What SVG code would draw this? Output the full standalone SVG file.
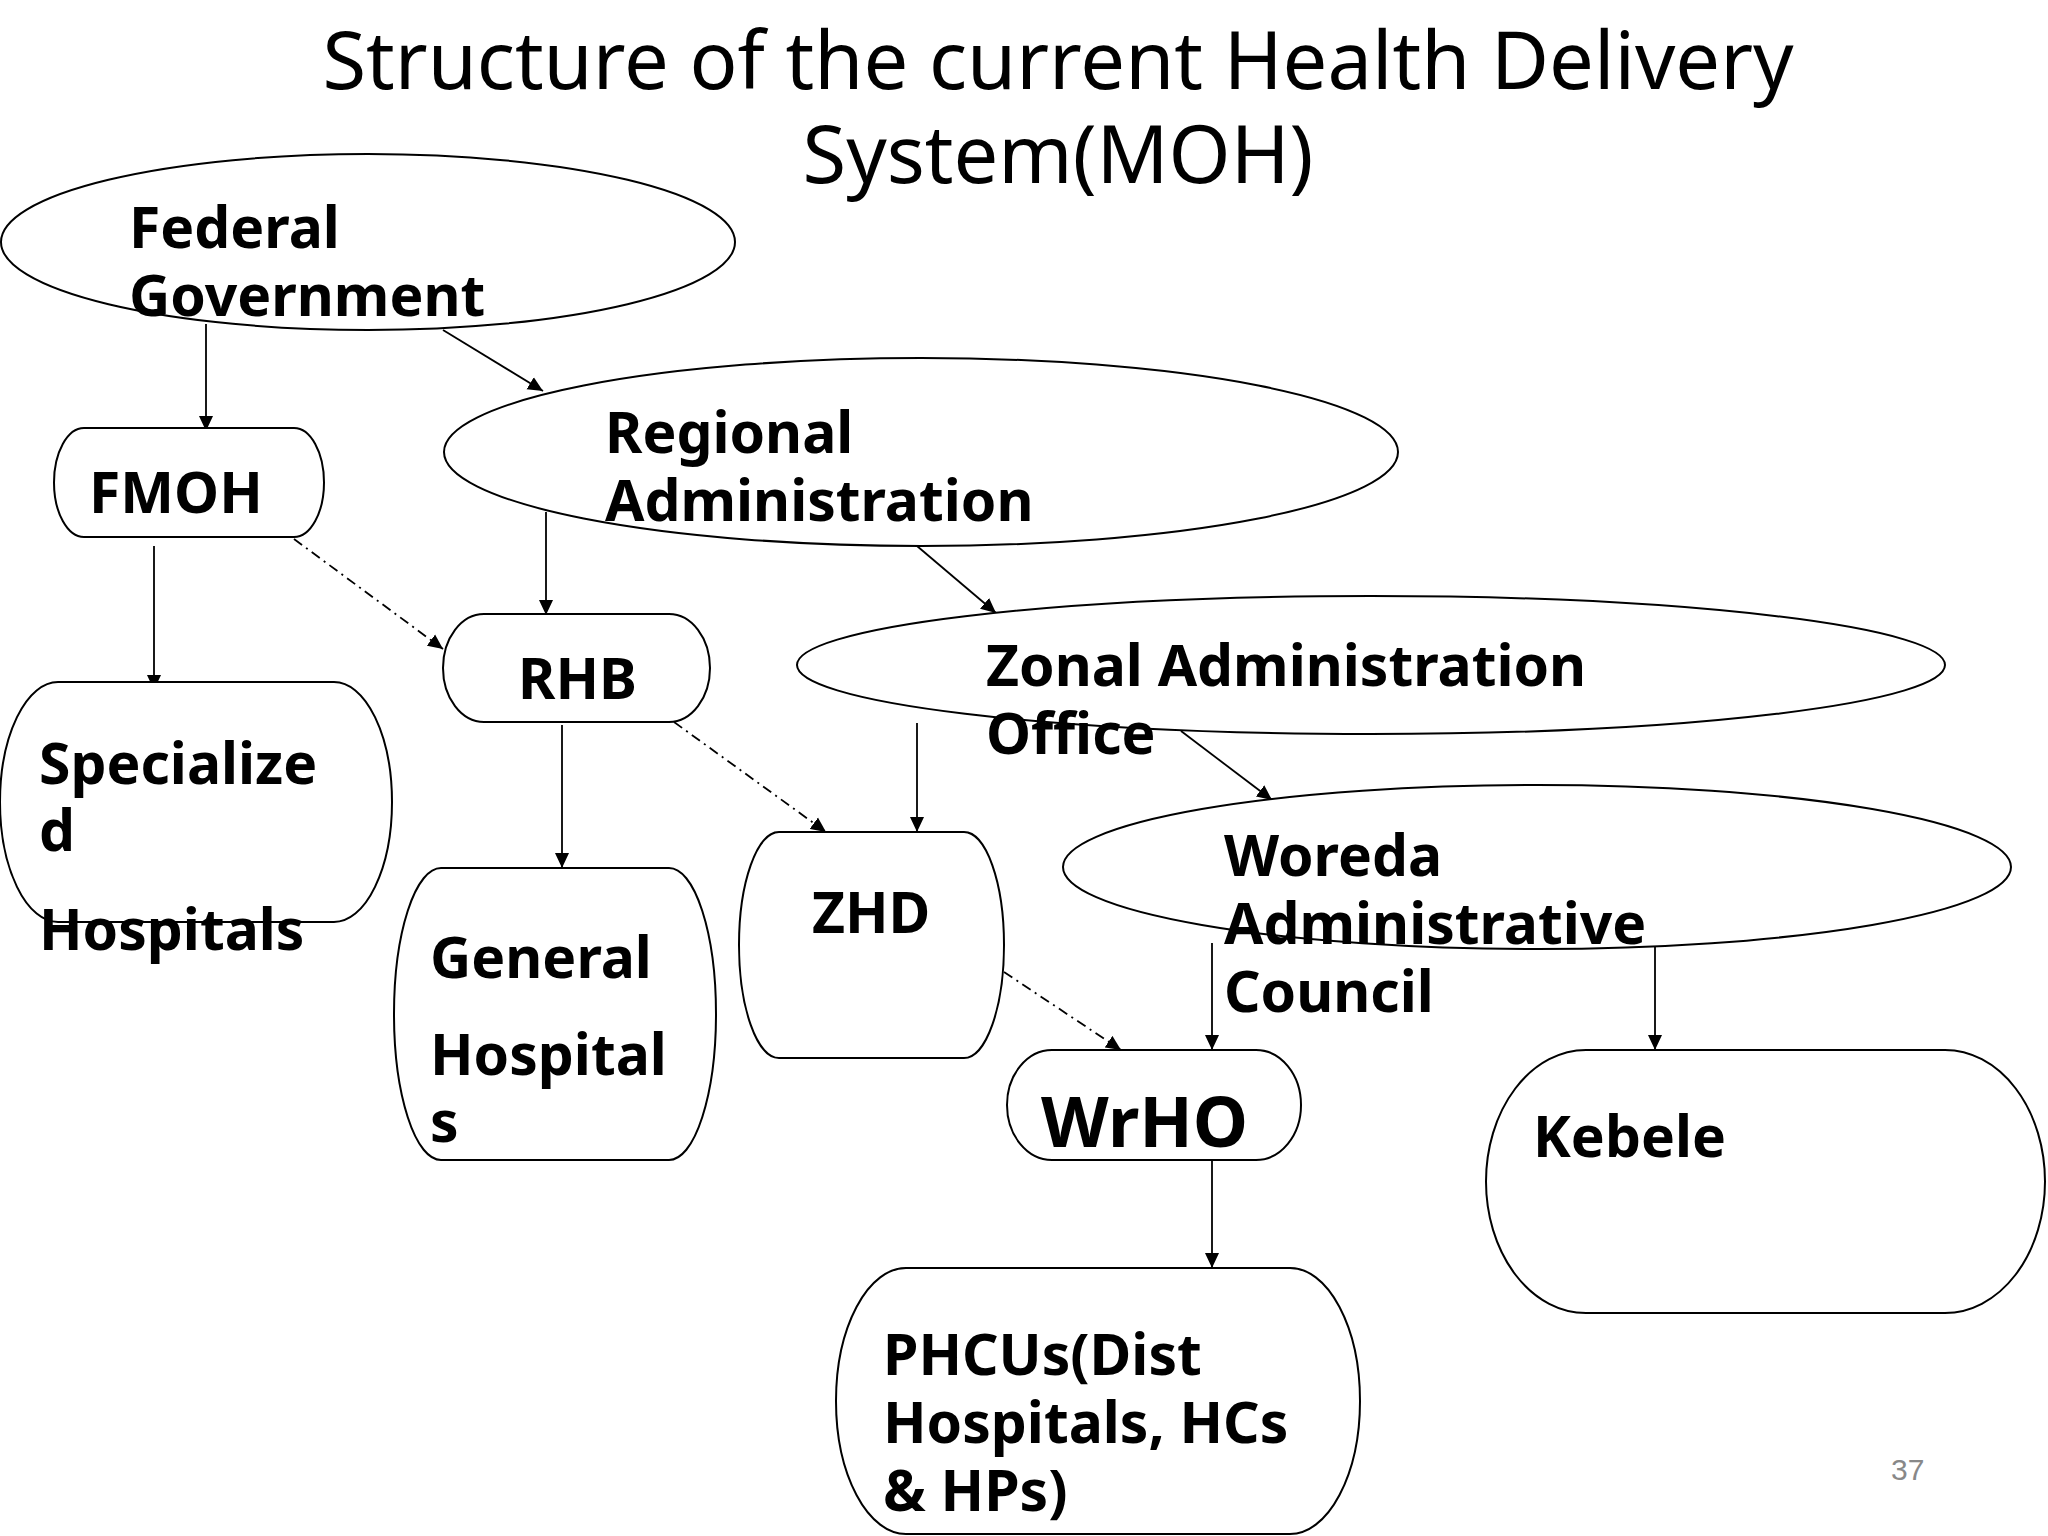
<svg xmlns="http://www.w3.org/2000/svg" width="2048" height="1536" viewBox="0 0 2048 1536">
<defs>
<marker id="ah" markerUnits="userSpaceOnUse" markerWidth="15" markerHeight="15" refX="15" refY="7" orient="auto" viewBox="0 0 15 14">
<path d="M0,0 L15,7 L0,14 Z" fill="#000"/>
</marker>
<style>
.shape{fill:#fff;stroke:#000;stroke-width:2}
.lbl{font-family:"Noto Sans","Open Sans","DejaVu Sans",sans-serif;font-weight:bold;font-size:57px;fill:#000}
.title{font-family:"Noto Sans","Open Sans","DejaVu Sans",sans-serif;font-size:79.5px;fill:#000}
.conn{stroke:#000;stroke-width:1.8;fill:none;marker-end:url(#ah)}
.dash{stroke-dasharray:10,5,2,5}
</style>
</defs>
<rect width="2048" height="1536" fill="#fff"/>
<g id="title">
<text class="title" x="1058" y="89" text-anchor="middle">Structure of the current Health Delivery</text>
<text class="title" x="1058" y="183" text-anchor="middle">System(MOH)</text>
</g>
<g id="connectors">
<line class="conn" x1="206" y1="324" x2="206" y2="431"/>
<line class="conn" x1="443" y1="330" x2="543" y2="391"/>
<line class="conn" x1="154" y1="546" x2="154" y2="690"/>
<line class="conn dash" x1="294" y1="539" x2="443" y2="649"/>
<line class="conn" x1="546" y1="512" x2="546" y2="615"/>
<line class="conn" x1="917" y1="546" x2="996" y2="613"/>
<line class="conn" x1="562" y1="725" x2="562" y2="868"/>
<line class="conn dash" x1="674" y1="722" x2="826" y2="832"/>
<line class="conn" x1="917" y1="723" x2="917" y2="832"/>
<line class="conn" x1="1181" y1="731" x2="1272" y2="800"/>
<line class="conn dash" x1="1004" y1="972" x2="1121" y2="1050"/>
<line class="conn" x1="1212" y1="943" x2="1212" y2="1050"/>
<line class="conn" x1="1655" y1="940" x2="1655" y2="1050"/>
<line class="conn" x1="1212" y1="1160" x2="1212" y2="1268"/>
</g>
<g id="federal">
<ellipse class="shape" cx="368" cy="242" rx="367" ry="88"/>
<text class="lbl" x="129" y="248">Federal</text>
<text class="lbl" x="129" y="316">Government</text>
</g>
<g id="fmoh">
<path class="shape" d="M84,428 H294 A30,54.5 0 0 1 294,537 H84 A30,54.5 0 0 1 84,428 Z"/>
<text class="lbl" x="89" y="513">FMOH</text>
</g>
<g id="regional">
<ellipse class="shape" cx="921" cy="452" rx="477" ry="94"/>
<text class="lbl" x="605" y="453">Regional</text>
<text class="lbl" x="605" y="521">Administration</text>
</g>
<g id="rhb">
<path class="shape" d="M484,614 H669 A41,54 0 0 1 669,722 H484 A41,54 0 0 1 484,614 Z"/>
<text class="lbl" x="518" y="699">RHB</text>
</g>
<g id="specialized">
<path class="shape" d="M58,682 H334 A58,120 0 0 1 334,922 H58 A58,120 0 0 1 58,682 Z"/>
<text class="lbl" x="39" y="784">Specialize</text>
<text class="lbl" x="39" y="851">d</text>
<text class="lbl" x="39" y="950">Hospitals</text>
</g>
<g id="zonal">
<ellipse class="shape" cx="1371" cy="665" rx="574" ry="69"/>
<text class="lbl" x="986" y="686">Zonal Administration</text>
<text class="lbl" x="986" y="754">Office</text>
</g>
<g id="general">
<path class="shape" d="M441,868 H669 A47,146 0 0 1 669,1160 H441 A47,146 0 0 1 441,868 Z"/>
<text class="lbl" x="430" y="978">General</text>
<text class="lbl" x="430" y="1075">Hospital</text>
<text class="lbl" x="430" y="1142">s</text>
</g>
<g id="zhd">
<path class="shape" d="M779,832 H964 A40,113 0 0 1 964,1058 H779 A40,113 0 0 1 779,832 Z"/>
<text class="lbl" x="812" y="933">ZHD</text>
</g>
<g id="woreda">
<ellipse class="shape" cx="1537" cy="867" rx="474" ry="82"/>
<text class="lbl" x="1224" y="876">Woreda</text>
<text class="lbl" x="1224" y="944">Administrative</text>
<text class="lbl" x="1224" y="1012">Council</text>
</g>
<g id="wrho">
<path class="shape" d="M1052,1050 H1256 A45,55 0 0 1 1256,1160 H1052 A45,55 0 0 1 1052,1050 Z"/>
<text class="lbl" x="1041" y="1147" style="font-size:70px">WrHO</text>
</g>
<g id="kebele">
<path class="shape" d="M1586,1050 H1945 A100,131.5 0 0 1 1945,1313 H1586 A100,131.5 0 0 1 1586,1050 Z"/>
<text class="lbl" x="1533" y="1157">Kebele</text>
</g>
<g id="phcus">
<path class="shape" d="M906,1268 H1290 A70,133 0 0 1 1290,1534 H906 A70,133 0 0 1 906,1268 Z"/>
<text class="lbl" x="883" y="1375">PHCUs(Dist</text>
<text class="lbl" x="883" y="1443">Hospitals, HCs</text>
<text class="lbl" x="883" y="1511">&amp; HPs)</text>
</g>
<g id="pagenum">
<text x="1891" y="1480" style="font-family:'Liberation Sans',Arial,sans-serif;font-size:30px;fill:#888">37</text>
</g>
</svg>
